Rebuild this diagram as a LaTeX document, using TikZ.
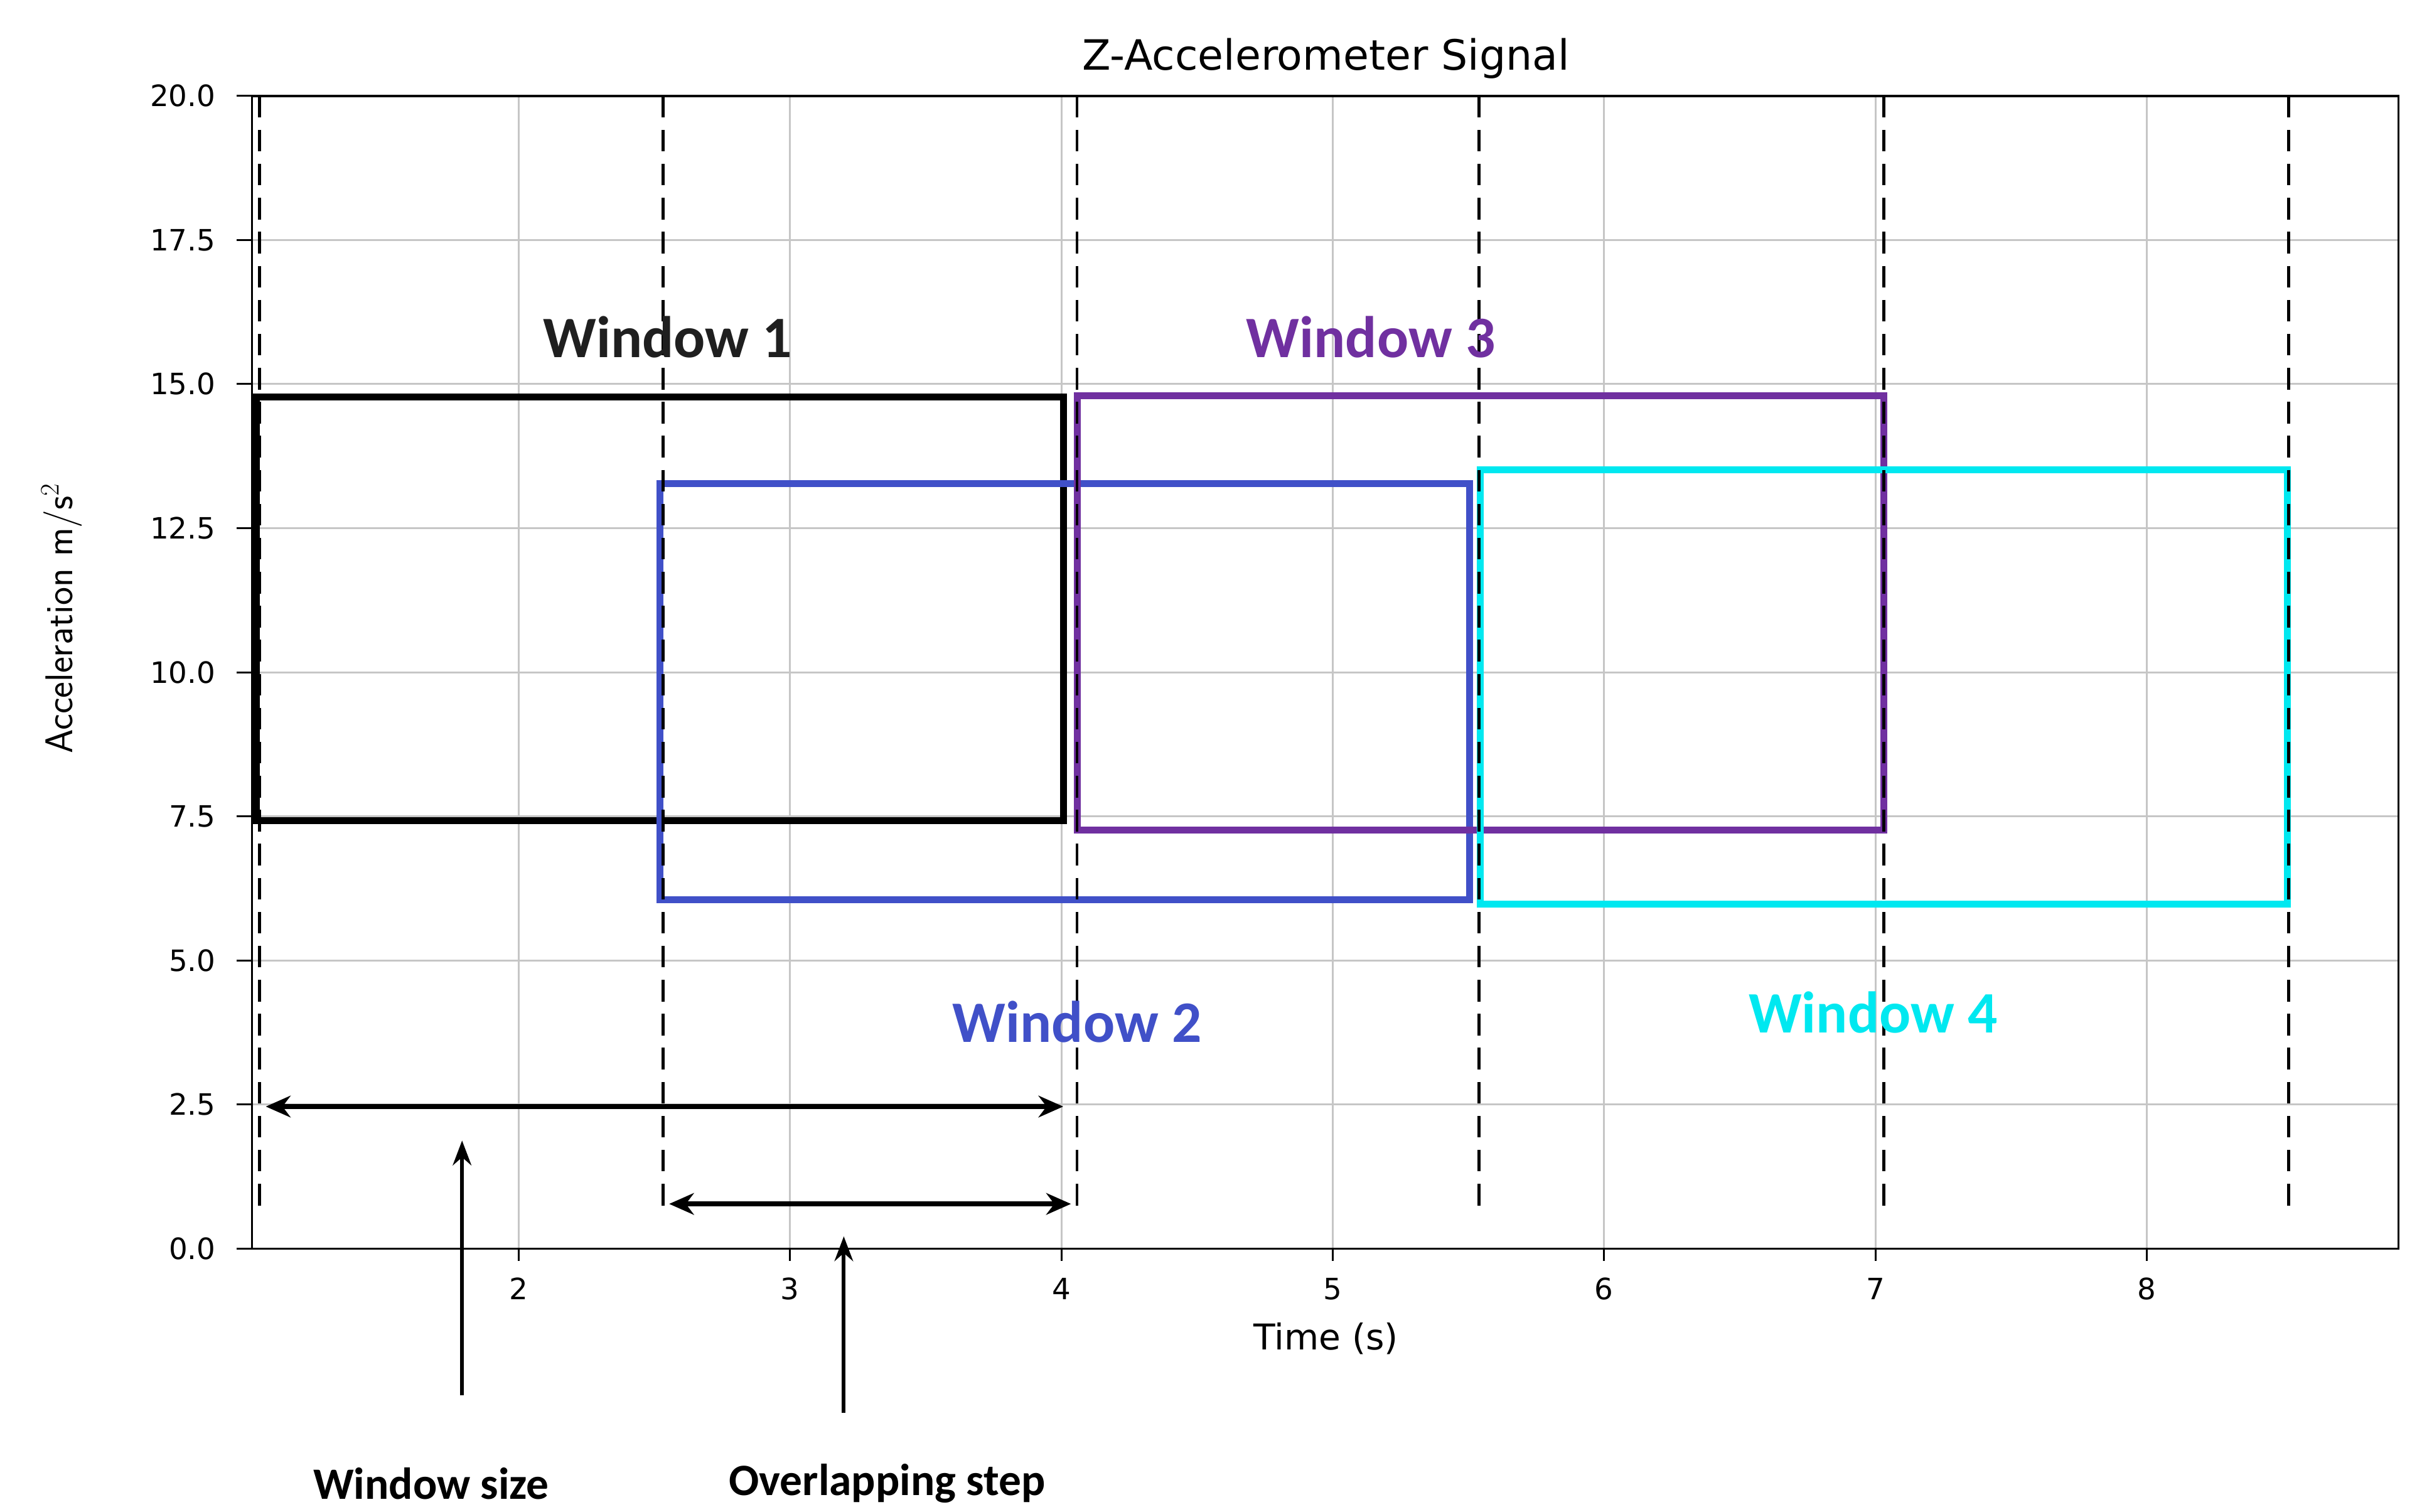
\documentclass[tikz,border=0pt]{standalone}
\usepackage{fontspec}
\setmainfont{DejaVu Sans}
\newfontfamily\carlitofam{Carlito}
\usetikzlibrary{arrows.meta}
\definecolor{sig}{HTML}{1F77B4}
\definecolor{wblue}{HTML}{4050C8}
\definecolor{wpurp}{HTML}{7030A0}
\definecolor{wcyan}{HTML}{00E8F0}
\tikzset{win/.style={line width=4.5pt},
vd/.style={dashed,line width=1.8pt,dash pattern=on 14pt off 8pt},
wl/.style={font=\carlitofam\bfseries\fontsize{38}{40}\selectfont},
bl/.style={font=\carlitofam\bfseries\fontsize{29}{31}\selectfont},
tk/.style={font=\fontsize{19}{21}\selectfont},
dar/.style={line width=3pt,{Stealth[length=16pt,width=14pt]}-{Stealth[length=16pt,width=14pt]}},
uar/.style={line width=2.4pt,-{Stealth[length=16pt,width=12pt]}},
declare function={gb(\t,\c,\w)=exp(-(min(abs((\t-\c)/\w),6))^2);
 pb(\t,\c,\w)=exp(-(min(abs((\t-\c)/\w),3))^4);}}
\begin{document}
\begin{tikzpicture}[x=1pt,y=-1pt]
\useasboundingbox[fill=white] (0,0) rectangle (1564,978);
% grid
\foreach \t in {2,...,8}{\draw[gray!45,line width=1.2pt] ({160+175.6*(\t-1)},62) -- ({160+175.6*(\t-1)},808);
 \node[tk] at ({160+175.6*(\t-1)},834) {\t};}
\foreach \k/\l in {0/0.0,1/2.5,2/5.0,3/7.5,4/10.0,5/12.5,6/15.0,7/17.5,8/20.0}{
 \draw[gray!45,line width=1.2pt] (163,{808-93.25*\k}) -- (1552,{808-93.25*\k});
 \node[tk,anchor=east] at (143,{808-93.25*\k}) {\l};
 \draw[line width=1.2pt] (163,{808-93.25*\k}) -- (153,{808-93.25*\k});}
\foreach \t in {2,...,8}\draw[line width=1.2pt] ({160+175.6*(\t-1)},808) -- ({160+175.6*(\t-1)},816);
% signal
\begin{scope}[shift={(-15.6,808)},x=175.6pt,y=-37.3pt]
\pgfmathsetseed{7}
\clip (0.98,0) rectangle (8.89,20);
\draw[sig,line width=3pt,line join=round] plot[domain=1:8.9,samples=330,smooth,tension=0.3]
 (\x,{9.8+1.0*pb(\x,3.5,0.17)-0.8*gb(\x,3.95,0.1)
 +2.0*gb(\x,4.38,0.06)-1.6*gb(\x,4.5,0.04)+0.8*gb(\x,4.95,0.06)
 -1.0*gb(\x,5.8,0.06)-2.5*gb(\x,5.93,0.05)+1.6*gb(\x,6.18,0.025)
 +(0.55-0.35*pb(\x,5.0,0.45))*rand});
\end{scope}
\draw[line width=1.5pt] (163,62) rectangle (1552,808);
% windows
\draw[win,black] (166,257) rectangle (688,531);
\draw[win,wblue] (427,313) rectangle (951,582);
\draw[win,wpurp] (697,256) rectangle (1219,537);
\draw[win,wcyan] (958,304) rectangle (1480,585);
% dashed verticals
\foreach \x in {168,429,697,957,1219,1481}\draw[vd] (\x,62) -- (\x,786);
% labels
\node[wl,black!88] (w1) at (432,218) {Window 1};
\node[wl,wpurp] (w3) at (887,218) {Window 3};
\node[wl,wblue] (w2) at (697,661) {Window 2};
\node[wl,wcyan] (w4) at (1212,655) {Window 4};
\coordinate (a1) at (172,716); \coordinate (a2) at (688,716);
\coordinate (b1) at (433,779); \coordinate (b2) at (693,779);
\draw[dar] (a1) -- (a2);
\draw[dar] (b1) -- (b2);
\node[bl] (ws) at (279,960) {Window size};
\node[bl] (os) at (574,960) {Overlapping step};
\coordinate (u1) at (299,903); \coordinate (u1t) at (299,738);
\coordinate (u2) at (546,914); \coordinate (u2t) at (546,800);
\draw[uar] (u1) -- (u1t);
\draw[uar] (u2) -- (u2t);
\node[font=\fontsize{27}{29}\selectfont] (tt) at (858,38) {Z-Accelerometer Signal};
\node[font=\fontsize{23}{25}\selectfont] (xl) at (858,866) {Time (s)};
\node[font=\sffamily\fontsize{25}{27}\selectfont,rotate=90] (yl) at (40,400) {Acceleration m/s$^2$};
\end{tikzpicture}
\end{document}
